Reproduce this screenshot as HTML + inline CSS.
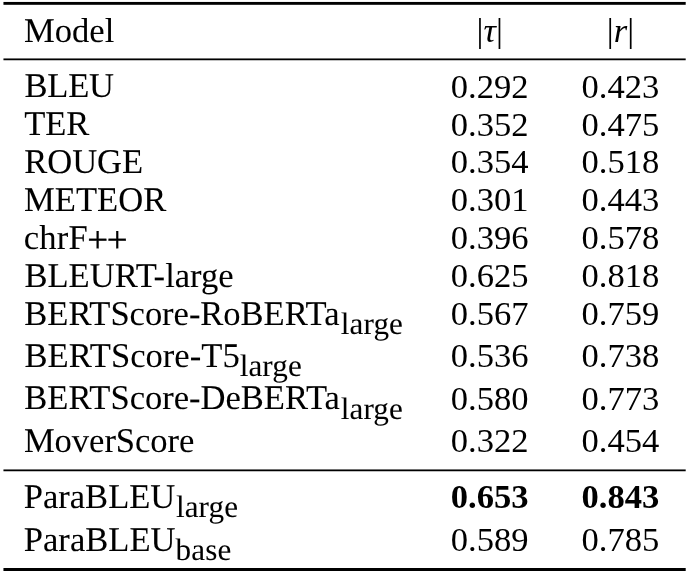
<!DOCTYPE html>
<html lang="en"><head><meta charset="utf-8"><title>Metric correlation table</title>
<style>
html,body{margin:0;padding:0;background:#fff}
body{width:690px;height:571px;position:relative;overflow:hidden;font-family:"Liberation Serif",serif;color:#000}
#t{position:absolute;left:0;top:0;width:690px;height:571px;will-change:transform}
.m,.n{position:absolute;font-size:34.593px;line-height:38px;height:38px;white-space:nowrap;font-kerning:normal}
.m{left:24.36px;text-rendering:geometricPrecision;-webkit-text-stroke:0.06px #000}
.m sub{font-size:31.134px;vertical-align:baseline;position:relative;top:9px;line-height:0}
.m .p{font-size:37px;-webkit-text-stroke:0.34px #000;letter-spacing:-1.36px;position:relative;top:3px;line-height:0}
.n{color:#000;text-align:center;font-family:"Liberation Serif",serif}
.n.b{font-weight:bold}
.n.h i{font-style:italic}
svg{position:absolute;left:0;top:0}
</style></head><body>
<div id="t">
<svg width="690" height="571" viewBox="0 0 690 571" aria-hidden="true"><rect x="3.45" y="1.95" width="682.25" height="2.85"/><rect x="3.45" y="58.45" width="682.25" height="1.80"/><rect x="3.45" y="469.45" width="682.25" height="1.80"/><rect x="3.45" y="568.0" width="682.25" height="3.50"/></svg>
<div class="row"><span class="m" style="top:12.00px;letter-spacing:-0.011px;margin-left:-0.37px">Model</span><span class="n h" style="top:10.78px;left:470.65px;width:38.20px">|<i>τ</i>|</span><span class="n h" style="top:10.78px;left:602.59px;width:35.73px">|<i>r</i>|</span></div>
<div class="row"><span class="m" style="top:67.00px;letter-spacing:-0.247px;margin-left:0.18px">BLEU</span><span class="n" style="top:66.63px;left:450.37px;width:78.77px">0.292</span><span class="n" style="top:66.63px;left:581.07px;width:78.77px">0.423</span></div>
<div class="row"><span class="m" style="top:105.00px;letter-spacing:-0.188px;margin-left:-0.10px">TER</span><span class="n" style="top:104.58px;left:450.37px;width:78.77px">0.352</span><span class="n" style="top:104.58px;left:581.07px;width:78.77px">0.475</span></div>
<div class="row"><span class="m" style="top:143.00px;letter-spacing:-0.093px;margin-left:-0.03px">ROUGE</span><span class="n" style="top:142.18px;left:450.37px;width:78.77px">0.354</span><span class="n" style="top:142.18px;left:581.07px;width:78.77px">0.518</span></div>
<div class="row"><span class="m" style="top:181.00px;letter-spacing:0.033px;margin-left:-0.39px">METEOR</span><span class="n" style="top:180.08px;left:450.37px;width:78.77px">0.301</span><span class="n" style="top:180.08px;left:581.07px;width:78.77px">0.443</span></div>
<div class="row"><span class="m" style="top:219.00px;letter-spacing:0.220px;margin-left:-0.58px">chrF<span class="p" style="margin-left:-0.90px">++</span></span><span class="n" style="top:218.03px;left:450.37px;width:78.77px">0.396</span><span class="n" style="top:218.03px;left:581.07px;width:78.77px">0.578</span></div>
<div class="row"><span class="m" style="top:257.00px;letter-spacing:-0.000px;margin-left:0.06px">BLEURT-large</span><span class="n" style="top:255.93px;left:450.37px;width:78.77px">0.625</span><span class="n" style="top:255.93px;left:581.07px;width:78.77px">0.818</span></div>
<div class="row"><span class="m" style="top:295.00px;letter-spacing:-0.052px;margin-left:-0.04px">BERTScore-RoBERTa<sub style="margin-left:1.27px;letter-spacing:0.100px">large</sub></span><span class="n" style="top:293.88px;left:450.37px;width:78.77px">0.567</span><span class="n" style="top:293.88px;left:581.07px;width:78.77px">0.759</span></div>
<div class="row"><span class="m" style="top:337.00px;letter-spacing:0.018px;margin-left:0.18px">BERTScore-T5<sub style="margin-left:-0.06px;letter-spacing:0.120px">large</sub></span><span class="n" style="top:336.03px;left:450.37px;width:78.77px">0.536</span><span class="n" style="top:336.03px;left:581.07px;width:78.77px">0.738</span></div>
<div class="row"><span class="m" style="top:379.00px;letter-spacing:-0.024px;margin-left:-0.12px">BERTScore-DeBERTa<sub style="top:10px;margin-left:0.89px;letter-spacing:0.097px">large</sub></span><span class="n" style="top:378.73px;left:450.37px;width:78.77px">0.580</span><span class="n" style="top:378.73px;left:581.07px;width:78.77px">0.773</span></div>
<div class="row"><span class="m" style="top:422.00px;letter-spacing:-0.049px;margin-left:-0.46px">MoverScore</span><span class="n" style="top:421.08px;left:450.37px;width:78.77px">0.322</span><span class="n" style="top:421.08px;left:581.07px;width:78.77px">0.454</span></div>
<div class="row"><span class="m" style="top:478.00px;letter-spacing:-0.035px;margin-left:-0.55px">ParaBLEU<sub style="margin-left:0.64px;letter-spacing:0.119px">large</sub></span><span class="n b" style="top:477.03px;left:445.18px;width:89.15px">0.653</span><span class="n b" style="top:477.03px;left:575.88px;width:89.15px">0.843</span></div>
<div class="row"><span class="m" style="top:521.00px;letter-spacing:0.002px;margin-left:-0.58px">ParaBLEU<sub style="margin-left:0.08px;letter-spacing:0.122px">base</sub></span><span class="n" style="top:519.88px;left:450.37px;width:78.77px">0.589</span><span class="n" style="top:519.88px;left:581.07px;width:78.77px">0.785</span></div>
</div>
</body></html>
